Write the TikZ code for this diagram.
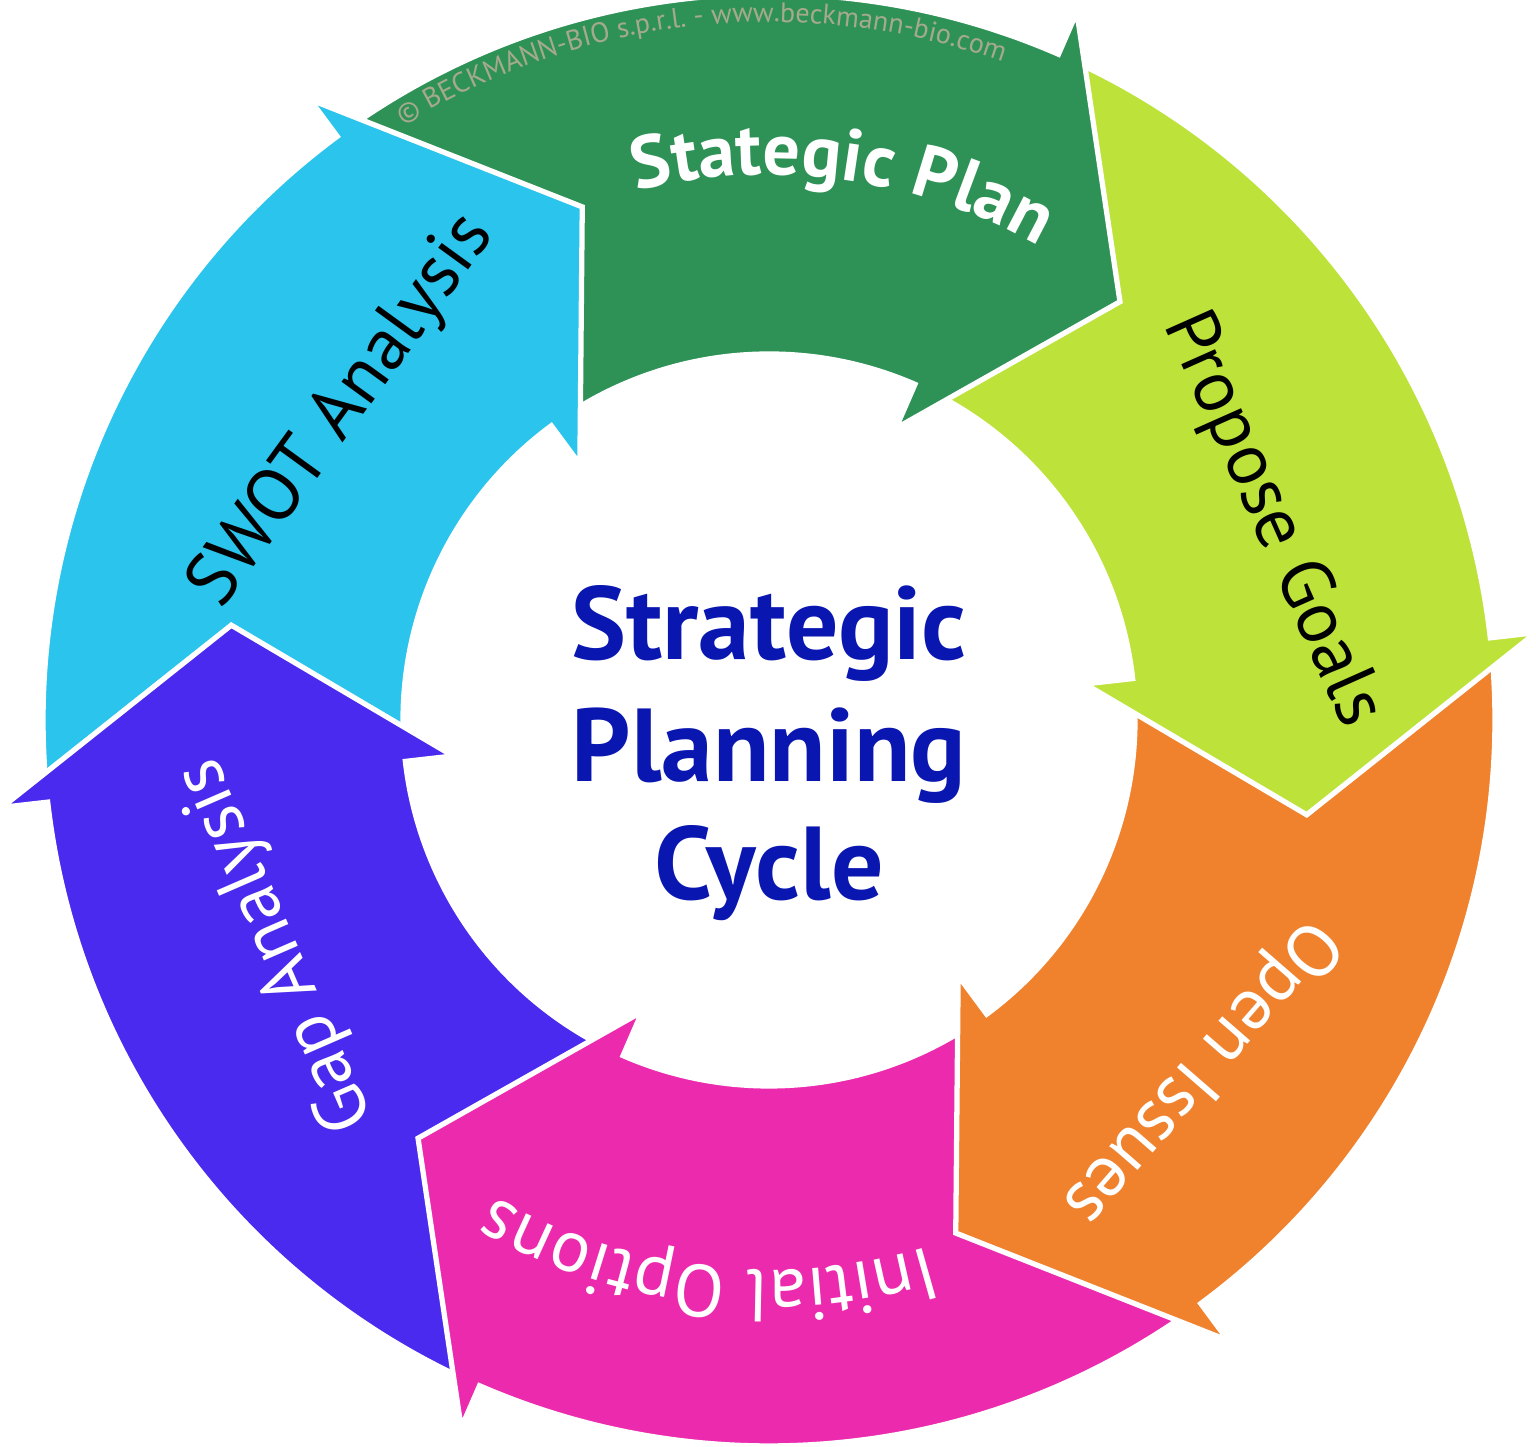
\documentclass[tikz,border=0pt]{standalone}
\usepackage{fontspec}
\setmainfont{PT Sans}
\usetikzlibrary{decorations.text}

\definecolor{planGreen}{RGB}{46,146,86}
\definecolor{goalLime}{RGB}{189,226,58}
\definecolor{issueOrange}{RGB}{240,130,46}
\definecolor{optionPink}{RGB}{236,42,174}
\definecolor{gapPurple}{RGB}{73,42,238}
\definecolor{swotCyan}{RGB}{42,196,236}
\definecolor{cycleBlue}{RGB}{10,22,176}
\definecolor{copyGrey}{RGB}{165,170,140}

% one arrow of the ring: #1 = angle of the head base, #2 = colour
\newcommand{\cyclearrow}[2]{%
  \draw[ringarrow, fill=#2] (#1+60:7.26) arc[start angle=#1+60, end angle=#1, radius=7.26]
    -- (#1:7.72) -- (#1-16.5:5.46) -- (#1:3.18) -- (#1:3.66)
    arc[start angle=#1, end angle=#1+60, radius=3.66] -- cycle;}

\begin{document}
\begin{tikzpicture}[
  ringarrow/.style={draw=white, line width=1.5pt},
  tagtext/.style={font=\fontsize{21}{21}\selectfont, inner sep=0pt},
  centertext/.style={font=\fontsize{29.5}{29.5}\selectfont\bfseries, text=cycleBlue, inner sep=0pt}
]
\useasboundingbox (0,0) rectangle (15.36,14.47);
\begin{scope}[shift={(7.69,7.27)}]
  % the six arrows, each head lies on the next arrow
  \foreach \b/\c in {-233.5/swotCyan, -173.5/gapPurple, -113.5/optionPink,
                     -53.5/issueOrange, 6.5/goalLime, 66.5/planGreen}{
    \cyclearrow{\b}{\c}
  }
  % head of the first arrow goes over the last one
  \begin{scope}
    \clip (0,0) -- (100:9) arc[start angle=100, end angle=135, radius=9] -- cycle;
    \cyclearrow{-233.5}{swotCyan}
  \end{scope}

  % labels
  \path[decorate, decoration={text along path, text align=center, text color=white,
      text={|\fontsize{21}{21}\selectfont\bfseries|Stategic Plan}}]
    (112.2:5.45) arc[start angle=112.2, end angle=52.2, radius=5.45];
  \path[decorate, decoration={text along path, text align=center, text color=white,
      text={|\fontsize{21}{21}\selectfont|Initial Options}}]
    (-66.5:5.50) arc[start angle=-66.5, end angle=-126.5, radius=5.50];
  \node[tagtext, rotate=-66] (goals) at (21.7:5.41) {Propose Goals};
  \node[tagtext, rotate=-131, text=white] (issues) at (-39.2:5.56) {Open Issues};
  \node[tagtext, rotate=113.5, text=white] (gap) at (204.6:5.41) {Gap Analysis};
  \node[tagtext, rotate=54] (swot) at (144.1:5.26) {SWOT Analysis};

  % copyright along the rim
  \path[decorate, decoration={text along path, text align=center, text color=copyGrey,
      text={|\fontsize{8}{8}\selectfont|© BECKMANN-BIO s.p.r.l. - www.beckmann-bio.com}}]
    (126:6.98) arc[start angle=126, end angle=66, radius=6.98];

  % title in the middle
  \node[centertext, anchor=base] (title1) at (0,0.60) {Strategic};
  \node[centertext, anchor=base] (title2) at (0,-0.62) {Planning};
  \node[centertext, anchor=base] (title3) at (0,-1.80) {Cycle};
\end{scope}
\end{tikzpicture}
\end{document}
